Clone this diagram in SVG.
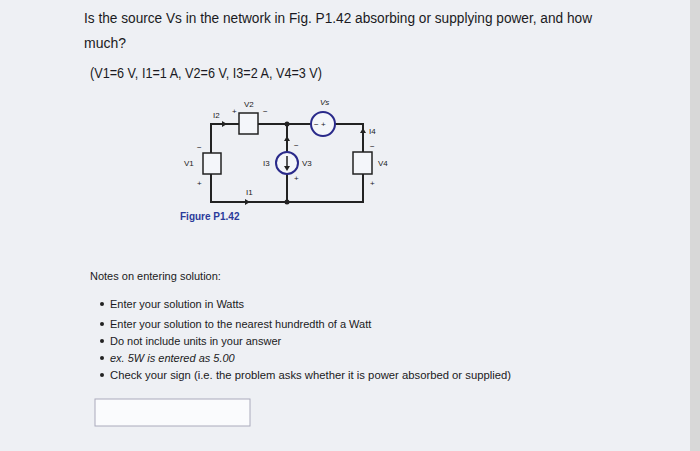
<svg xmlns="http://www.w3.org/2000/svg" width="700" height="451" viewBox="0 0 700 451">
<style>
text{font-family:"Liberation Sans",Arial,sans-serif;fill:#1a1a22}
.q{font-size:14px}.n{font-size:11px}.s{font-size:8px}
.w{stroke:#222;stroke-width:2;fill:none}
.b{stroke:#222;stroke-width:1.5;fill:#f4f6fa}
.c{stroke:#2a2a8a;stroke-width:2;fill:#f4f6fa}
</style>
<rect width="700" height="451" fill="#eef0f4"/>
<rect x="690" y="0" width="10" height="451" fill="#d8d8d8"/>
<text class="q" x="84" y="23" textLength="508" lengthAdjust="spacingAndGlyphs">Is the source Vs in the network in Fig. P1.42 absorbing or supplying power, and how</text>
<text class="q" x="84" y="48">much?</text>
<text class="q" x="90" y="78" textLength="232" lengthAdjust="spacingAndGlyphs">(V1=6 V, I1=1 A, V2=6 V, I3=2 A, V4=3 V)</text>
<g id="connectors">
<path class="w" d="M211,153 V124 H239 M258,124 H311 M335,124 H363 V152 M363,174 V202 H211 V174 M287,124 V152 M287,174 V202"/>
<circle cx="287" cy="124" r="2.5" fill="#222"/><circle cx="287" cy="202" r="2.5" fill="#222"/>
<path d="M222,121 l5,3 l-5,3z M245,199 l5,3 l-5,3z M360,133 l3,-5 l3,5z M284,141 l3,-5 l3,5z" fill="#222"/>
</g>
<g id="V2"><rect class="b" x="239" y="113" width="19" height="21"/><text class="s" x="244" y="107">V2</text><text class="s" x="232" y="114">+</text><text class="s" x="263" y="114">−</text><text class="s" x="213" y="118">I2</text></g>
<g id="V1"><rect class="b" x="203" y="153" width="18" height="21"/><text class="s" x="184" y="166">V1</text><text class="s" x="197" y="150">−</text><text class="s" x="197" y="186">+</text></g>
<g id="V4"><rect class="b" x="353" y="152" width="19" height="22"/><text class="s" x="378" y="166">V4</text><text class="s" x="370" y="149">−</text><text class="s" x="370" y="186">+</text><text class="s" x="369" y="134">I4</text></g>
<g id="Vs"><circle class="c" cx="323" cy="124" r="12"/><text class="s" x="314" y="127">− +</text><text class="s" x="320" y="105" font-style="italic">Vs</text></g>
<g id="I3"><circle class="c" cx="287" cy="163" r="11"/><path d="M287,156 V168" stroke="#222" stroke-width="1.5"/><path d="M284,166 l3,5 l3,-5z" fill="#222"/><text class="s" x="263" y="166">I3</text><text class="s" x="302" y="166">V3</text><text class="s" x="294" y="148">−</text><text class="s" x="294" y="181">+</text></g>
<text class="s" x="246" y="195">I1</text>
<text x="180" y="220" font-size="10" font-weight="bold" style="fill:#2a3a9a">Figure P1.42</text>
<text class="n" x="90" y="280">Notes on entering solution:</text>
<g>
<circle cx="102" cy="304" r="2" fill="#222"/><text class="n" x="110" y="308">Enter your solution in Watts</text>
<circle cx="102" cy="324" r="2" fill="#222"/><text class="n" x="110" y="328">Enter your solution to the nearest hundredth of a Watt</text>
<circle cx="102" cy="341" r="2" fill="#222"/><text class="n" x="110" y="345">Do not include units in your answer</text>
<circle cx="102" cy="358" r="2" fill="#222"/><text class="n" x="110" y="362" font-style="italic">ex. 5W is entered as 5.00</text>
<circle cx="102" cy="375" r="2" fill="#222"/><text class="n" x="110" y="379" textLength="401" lengthAdjust="spacingAndGlyphs">Check your sign (i.e. the problem asks whether it is power absorbed or supplied)</text>
</g>
<rect x="95" y="399" width="155" height="27" fill="#fafbfd" stroke="#aab" stroke-width="1"/>
</svg>
